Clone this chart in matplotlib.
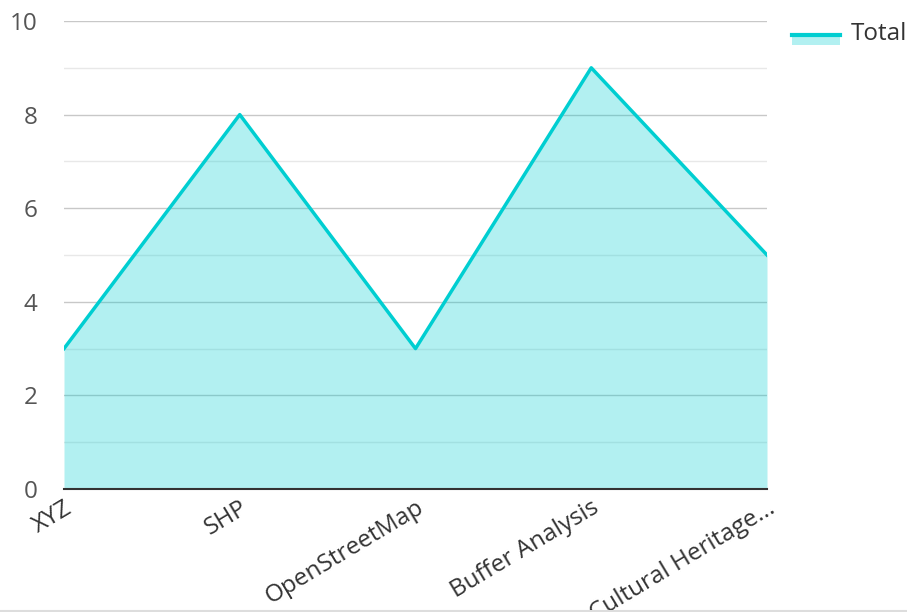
import matplotlib.pyplot as plt
from matplotlib.lines import Line2D
from matplotlib.patches import Rectangle

plt.rcParams['font.family'] = ['Open Sans', 'DejaVu Sans']

# --- Datos ---
categorias = ['XYZ', 'SHP', 'OpenStreetMap', 'Buffer Analysis', 'Cultural Heritage...']
total = [3, 8, 3, 9, 5]
y_ticks = [0, 2, 4, 6, 8, 10]

linea = '#00CED1'

fig = plt.figure(figsize=(9.07, 6.12), dpi=100)
ax = fig.add_axes([64 / 907, 1 - 489 / 612, (767 - 64) / 907, (489 - 21) / 612])

x = range(len(categorias))
ax.fill_between(x, total, 0, color=linea, alpha=0.3, zorder=2, linewidth=0)
ax.plot(x, total, color=linea, linewidth=2.5, zorder=3)

ax.set_xlim(0, len(categorias) - 1)
ax.set_ylim(0, 10)
ax.set_yticks(y_ticks)
ax.set_yticks([1, 3, 5, 7, 9], minor=True)
ax.grid(True, axis='y', which='major', color='#c8c8c8', linewidth=1, zorder=1)
ax.grid(True, axis='y', which='minor', color='#e8e8e8', linewidth=1, zorder=1)
ax.set_axisbelow(True)

for s in ['top', 'right', 'left']:
    ax.spines[s].set_visible(False)
ax.spines['bottom'].set_color('#333333')
ax.spines['bottom'].set_linewidth(1.5)
ax.spines['bottom'].set_zorder(4)

ax.set_xticks(list(x))
ax.set_xticklabels(categorias, rotation=31, ha='right', rotation_mode='anchor')
ax.tick_params(axis='x', length=0, pad=5, labelsize=17.5, labelcolor='#333333')
ax.tick_params(axis='y', which='both', length=0, pad=19, labelsize=17.5, labelcolor='#555555')

# --- Leyenda manual ---
fig.add_artist(Rectangle((792 / 907, 1 - 45 / 612), 48 / 907, 11 / 612,
                         transform=fig.transFigure, color=linea, alpha=0.3, linewidth=0))
fig.add_artist(Line2D([792 / 907, 840 / 907], [1 - 35 / 612, 1 - 35 / 612],
                      transform=fig.transFigure, color=linea, linewidth=3))
fig.text(851 / 907, 1 - 34 / 612, 'Total', fontsize=17.5, color='#333333', va='center', ha='left')

# borde inferior
fig.add_artist(Line2D([0, 1], [1 - 610.5 / 612] * 2, transform=fig.transFigure,
                      color='#dddddd', linewidth=1.5))

plt.savefig('out.png', dpi=100)
